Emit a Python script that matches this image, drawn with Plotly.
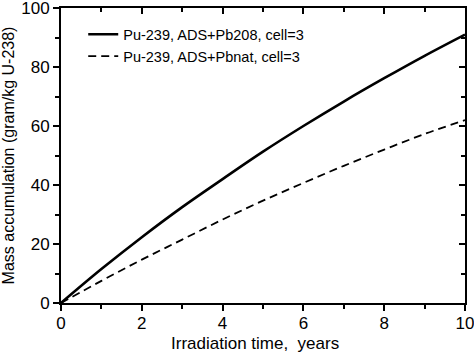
import plotly.graph_objects as go

years = [0, 1, 2, 3, 4, 5, 6, 7, 8, 9, 10]
pb208 = [0, 11.5, 22.3, 32.5, 42.0, 51.3, 60.0, 68.3, 76.2, 83.8, 91.0]
pbnat = [0, 7.5, 14.7, 21.5, 28.3, 34.7, 40.7, 46.5, 52.0, 57.3, 62.0]
name_208 = "Pu-239, ADS+Pb208, cell=3"
name_nat = "Pu-239, ADS+Pbnat, cell=3"
x_ticks = [0, 2, 4, 6, 8, 10]
y_ticks = [0, 20, 40, 60, 80, 100]
x_title = "Irradiation time,  years"
y_title = "Mass accumulation (gram/kg U-238)"

FONT = "Liberation Sans, Arial, sans-serif"

fig = go.Figure()
fig.add_trace(go.Scatter(x=years, y=pb208, mode="lines", name=name_208,
                         line=dict(color="black", width=2.6, shape="spline")))
fig.add_trace(go.Scatter(x=years, y=pbnat, mode="lines", name=name_nat,
                         line=dict(color="black", width=1.8, dash="8px,5px", shape="spline")))
# invisible trace to anchor the mirrored (inward-tick) axes
fig.add_trace(go.Scatter(x=[0, 10], y=[0, 100], xaxis="x2", yaxis="y2", mode="markers",
                         marker=dict(opacity=0), showlegend=False, hoverinfo="skip"))

common = dict(showgrid=False, zeroline=False, linecolor="black", linewidth=2,
              tickcolor="black", tickwidth=1.5, ticklen=6, automargin=False)

fig.update_layout(
    width=474, height=353,
    margin=dict(l=61, r=9, t=8, b=50, autoexpand=False),
    paper_bgcolor="white", plot_bgcolor="white",
    font=dict(family=FONT, color="black"),
    showlegend=True,
    legend=dict(x=0.055, y=0.965, xanchor="left", yanchor="top",
                bgcolor="rgba(0,0,0,0)", font=dict(size=14.5, family=FONT),
                tracegroupgap=0, itemwidth=30),
    xaxis=dict(range=[0, 10], tickvals=x_ticks, ticktext=[str(v) for v in x_ticks],
               ticks="outside", tickfont=dict(size=17), ticklabeloverflow="allow",
               ticklabelstandoff=-2,
               minor=dict(dtick=1, ticks="outside", ticklen=4, tickcolor="black", tickwidth=1.5),
               **common),
    yaxis=dict(range=[0, 100], tickvals=y_ticks, ticktext=[str(v) for v in y_ticks],
               ticks="outside", tickfont=dict(size=17), ticklabeloverflow="allow",
               title=dict(text=y_title, font=dict(size=16)),
               minor=dict(dtick=10, ticks="outside", ticklen=4, tickcolor="black", tickwidth=1.5),
               **common),
    xaxis2=dict(range=[0, 10], overlaying="x", side="top", anchor="y2", tickvals=x_ticks,
                ticks="inside", showticklabels=False,
                minor=dict(dtick=1, ticks="inside", ticklen=4, tickcolor="black", tickwidth=1.5),
                **common),
    yaxis2=dict(range=[0, 100], overlaying="y", side="right", anchor="x2", tickvals=y_ticks,
                ticks="inside", showticklabels=False,
                minor=dict(dtick=10, ticks="inside", ticklen=4, tickcolor="black", tickwidth=1.5),
                **common),
    annotations=[dict(text=x_title, xref="paper", yref="paper", x=0.48, y=-0.138,
                      xanchor="center", yanchor="middle", showarrow=False,
                      font=dict(size=17, family=FONT))],
)

fig.write_html("out.html")
